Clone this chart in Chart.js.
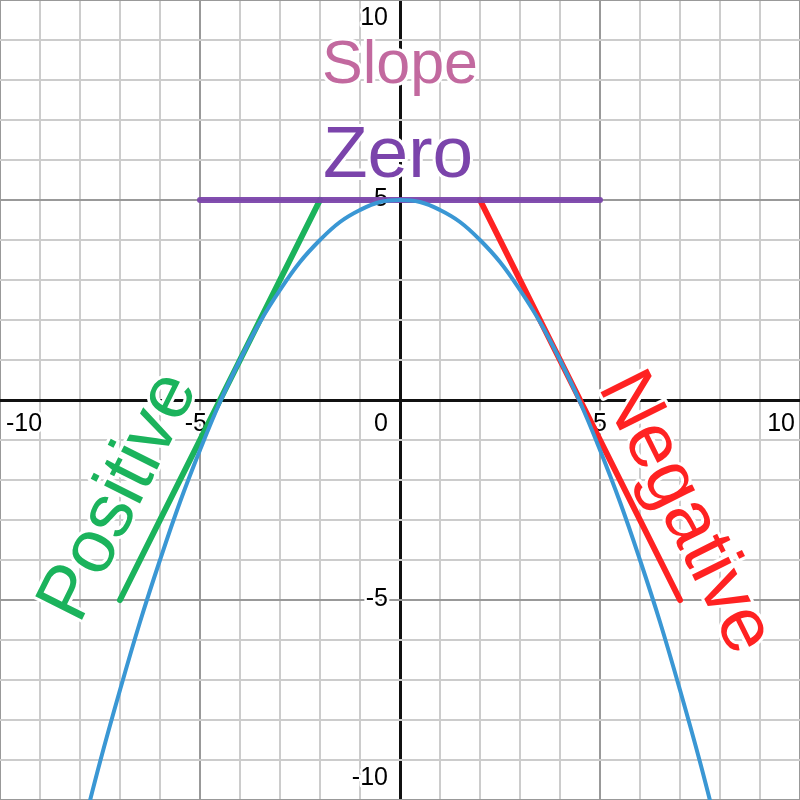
<!DOCTYPE html>
<html>
<head>
<meta charset="utf-8">
<title>Slope</title>
<script src="https://cdn.jsdelivr.net/npm/chart.js@4/dist/chart.umd.min.js"></script>
<style>
  html, body { margin: 0; padding: 0; background: #fff; }
  #wrap { width: 800px; height: 800px; position: relative; }
</style>
</head>
<body>
<div id="wrap"><canvas id="slopeChart"></canvas></div>
<script>
// ---- data ----
const curveX = [-8, -7.5, -7, -6.5, -6, -5.5, -5, -4.5, -4, -3.5, -3, -2.5, -2, -1.5, -1, -0.5, 0,
                0.5, 1, 1.5, 2, 2.5, 3, 3.5, 4, 4.5, 5, 5.5, 6, 6.5, 7, 7.5, 8];
const curveY = [-11, -9.05, -7.25, -5.55, -4, -2.55, -1.25, -0.05, 1, 1.95, 2.75, 3.45, 4, 4.45, 4.75, 4.95, 5,
                4.95, 4.75, 4.45, 4, 3.45, 2.75, 1.95, 1, -0.05, -1.25, -2.55, -4, -5.55, -7.25, -9.05, -11];

const zeroX = [-5, 5];
const zeroY = [5, 5];
const positiveX = [-7, -2];
const positiveY = [-5, 5];
const negativeX = [2, 7];
const negativeY = [5, -5];

const xTicks = [-10, -5, 0, 5, 10];
const yTicks = [10, 5, -5, -10];

const toPoints = (xs, ys) => xs.map((x, i) => ({ x, y: ys[i] }));

// text labels (anchor in graph units)
const textLabels = [
  { text: 'Slope', x: 0, y: 7.93, size: 61, color: '#c2699f', angle: 0, base: 'alphabetic' },
  { text: 'Zero', x: -0.05, y: 5.58, size: 73, color: '#7b44ab', angle: 0, base: 'alphabetic' },
  { text: 'Positive', x: -7.0, y: -2.42, size: 76, color: '#1bb35c', angle: -Math.atan(2), base: 'middle' },
  { text: 'Negative', x: 7.12, y: -2.82, size: 77, color: '#ff2222', angle: Math.atan(2), base: 'middle' }
];

const FONT = '"Liberation Sans", Arial, sans-serif';

function haloText(ctx, text, x, y, fill, halo) {
  ctx.lineJoin = 'round';
  ctx.strokeStyle = '#fff';
  ctx.lineWidth = halo;
  ctx.strokeText(text, x, y);
  ctx.fillStyle = fill;
  ctx.fillText(text, x, y);
}

// draws the big labels and the axis numbers under the curves
const labelPlugin = {
  id: 'graphLabels',
  beforeDatasetsDraw(chart) {
    const ctx = chart.ctx;
    const xs = chart.scales.x, ys = chart.scales.y;
    const area = chart.chartArea;
    ctx.save();

    textLabels.forEach(l => {
      ctx.save();
      ctx.translate(xs.getPixelForValue(l.x), ys.getPixelForValue(l.y));
      ctx.rotate(l.angle);
      ctx.font = l.size + 'px ' + FONT;
      ctx.textAlign = 'center';
      ctx.textBaseline = l.base;
      haloText(ctx, l.text, 0, 0, l.color, 6);
      ctx.restore();
    });

    const ox = xs.getPixelForValue(0), oy = ys.getPixelForValue(0);
    ctx.font = '25px ' + FONT;
    ctx.textBaseline = 'alphabetic';

    // numbers along the x axis
    xTicks.forEach(v => {
      const label = String(v);
      let px = xs.getPixelForValue(v);
      const w = ctx.measureText(label).width;
      const digits = ctx.measureText(String(Math.abs(v))).width;
      let left;
      if (v === 0) left = ox - 12 - w;
      else left = px + digits / 2 - w;
      left = Math.max(area.left + 6, Math.min(area.right - 5 - w, left));
      ctx.textAlign = 'left';
      haloText(ctx, label, left, oy + 31, '#000', 5);
    });

    // numbers along the y axis
    ctx.textAlign = 'right';
    ctx.textBaseline = 'middle';
    yTicks.forEach(v => {
      let py = ys.getPixelForValue(v) - 1;
      py = Math.max(area.top + 18, Math.min(area.bottom - 22, py));
      haloText(ctx, String(v), ox - 12, py, '#000', 5);
    });

    ctx.restore();
  }
};

const gridColor = c => {
  const v = c.tick.value;
  if (v === 0) return '#111';
  return v % 5 === 0 ? '#999999' : '#cccccc';
};
const gridWidth = c => (c.tick.value === 0 ? 3 : 2);

const axisOpts = {
  type: 'linear',
  min: -10,
  max: 10,
  ticks: { stepSize: 1, display: false },
  grid: { color: gridColor, lineWidth: gridWidth, drawTicks: false },
  border: { display: false }
};

const lineSet = (label, xs, ys, color, width) => ({
  label,
  data: toPoints(xs, ys),
  showLine: true,
  borderColor: color,
  backgroundColor: color,
  borderWidth: width,
  borderCapStyle: 'round',
  pointRadius: 0,
  pointHoverRadius: 0,
  fill: false
});

const canvas = document.getElementById('slopeChart');
const curve = lineSet('y = 5 - x²/4', curveX, curveY, '#3a97d4', 4);
curve.tension = 0.4;

new Chart(canvas.getContext('2d'), {
  type: 'scatter',
  data: {
    datasets: [
      curve,
      lineSet('Zero', zeroX, zeroY, 'rgba(123, 68, 171, 0.95)', 6),
      lineSet('Positive', positiveX, positiveY, '#1bb35c', 6),
      lineSet('Negative', negativeX, negativeY, '#ff2222', 6)
    ]
  },
  options: {
    responsive: true,
    maintainAspectRatio: false,
    animation: false,
    layout: { padding: 0 },
    plugins: { legend: { display: false }, tooltip: { enabled: false } },
    scales: { x: axisOpts, y: axisOpts }
  },
  plugins: [labelPlugin]
});
</script>
</body>
</html>
